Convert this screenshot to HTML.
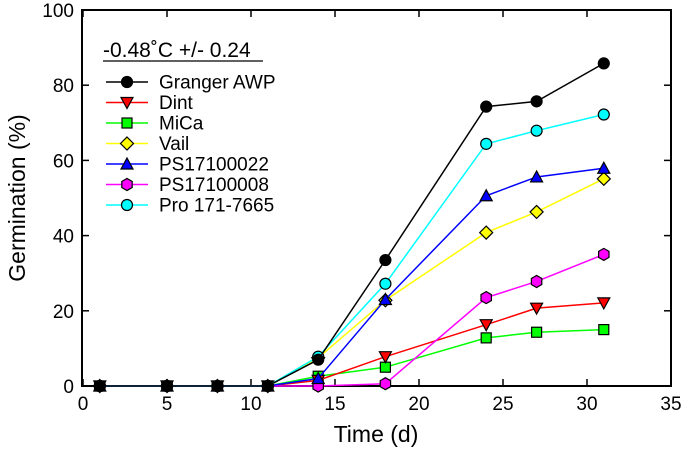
<!DOCTYPE html>
<html><head><meta charset="utf-8"><style>
body{margin:0;background:#fff}
svg{display:block;font-family:"Liberation Sans",Arial,sans-serif}
</style></head><body>
<svg id="chart" width="685" height="464" viewBox="0 0 685 464" xmlns="http://www.w3.org/2000/svg">
<g id="axes"></g><g id="series"></g><g id="legend"></g>
</svg>
<script>
const days=[1,5,8,11,14,18,24,27,31];
const granger=[0,0,0,0,7,33.5,74.3,75.7,85.8];
const dint=[0,0,0,0,1.5,7.8,16.3,20.7,22.1];
const mica=[0,0,0,0,2.6,5,12.8,14.3,15];
const vail=[0,0,0,0,7.5,22.8,40.8,46.3,55.1];
const ps22=[0,0,0,0,2,23,50.6,55.6,57.9];
const ps08=[0,0,0,0,0,0.6,23.5,27.8,35];
const pro=[0,0,0,0,7.8,27.2,64.4,67.9,72.2];
const xTicks=[0,5,10,15,20,25,30,35];
const yTicks=[0,20,40,60,80,100];
const seriesNames=["Granger AWP","Dint","MiCa","Vail","PS17100022","PS17100008","Pro 171-7665"];

const NS="http://www.w3.org/2000/svg";
const L=82,R=671,T=10,B=386;
const xs=v=>L+1+v*(R-L-1)/35;
const ys=v=>B-v*(B-T)/100;
function mk(tag,attrs,parent){const e=document.createElementNS(NS,tag);for(const k in attrs)e.setAttribute(k,attrs[k]);parent.appendChild(e);return e;}
const axes=document.getElementById('axes'),sg=document.getElementById('series'),lg=document.getElementById('legend');
const frame=mk('rect',{x:L,y:T,width:R-L,height:B-T,fill:'none',stroke:'#000','stroke-width':2},axes);


xTicks.forEach(t=>{
  const x=xs(t);
  mk('line',{x1:x,y1:B,x2:x,y2:B-7,stroke:'#000','stroke-width':1.5},axes);
  mk('line',{x1:x,y1:T,x2:x,y2:T+7,stroke:'#000','stroke-width':1.5},axes);
  const tx=mk('text',{x:x,y:B+24,'text-anchor':'middle','font-size':19},axes);tx.textContent=t;
  
  
});
yTicks.forEach(t=>{
  const y=ys(t);
  mk('line',{x1:L,y1:y,x2:L+7,y2:y,stroke:'#000','stroke-width':1.5},axes);
  mk('line',{x1:R,y1:y,x2:R-7,y2:y,stroke:'#000','stroke-width':1.5},axes);
  const tx=mk('text',{x:L-8,y:y+7,'text-anchor':'end','font-size':19},axes);tx.textContent=t;
  
  
});
const xt=mk('text',{x:376,y:442,'text-anchor':'middle','font-size':23},axes);xt.textContent='Time (d)';


const yt=mk('text',{x:0,y:0,'text-anchor':'middle','font-size':23,transform:'translate(25,198) rotate(-90)'},axes);yt.textContent='Germination (%)';



function marker(kind,x,y,fill,parent){
  const s={fill:fill,stroke:'#000','stroke-width':1.2};
  let e;
  if(kind==='circle')e=mk('circle',Object.assign({cx:x,cy:y,r:5.5},s),parent);
  else if(kind==='tri-down')e=mk('polygon',Object.assign({points:`${x-6},${y-5} ${x+6},${y-5} ${x},${y+6}`},s),parent);
  else if(kind==='tri-up')e=mk('polygon',Object.assign({points:`${x-6},${y+5} ${x+6},${y+5} ${x},${y-6}`},s),parent);
  else if(kind==='square')e=mk('rect',Object.assign({x:x-5,y:y-5,width:10,height:10},s),parent);
  else if(kind==='diamond')e=mk('polygon',Object.assign({points:`${x},${y-6.5} ${x+6.5},${y} ${x},${y+6.5} ${x-6.5},${y}`},s),parent);
  else if(kind==='hex'){let p=[];for(let i=0;i<6;i++){const a=Math.PI/6+i*Math.PI/3;p.push((x+6*Math.cos(a)).toFixed(1)+','+(y+6*Math.sin(a)).toFixed(1));}e=mk('polygon',Object.assign({points:p.join(' ')},s),parent);}
  return e;
}
const data=[granger,dint,mica,vail,ps22,ps08,pro];
const colors=['#000000','#ff0000','#00ff00','#ffff00','#0000ff','#ff00ff','#00ffff'];
const kinds=['circle','tri-down','square','diamond','tri-up','hex','circle'];
const fills=['#000000','#ff0000','#00ff00','#ffff00','#0000ff','#ff00ff','#00ffff'];
const slugs=['granger-awp','dint','mica','vail','ps17100022','ps17100008','pro-171-7665'];
const order=[3,2,1,5,4,6,0];
order.forEach(i=>{
  const g=mk('g',{},sg);
  
  
  const pl=mk('polyline',{points:days.map((d,j)=>xs(d)+','+ys(data[i][j])).join(' '),fill:'none',stroke:colors[i],'stroke-width':1.5},g);
  
  
  days.forEach((d,j)=>{
    const m=marker(kinds[i],xs(d),ys(data[i][j]),fills[i],g);
    
    
  });
});
const title=mk('text',{x:103,y:57,'font-size':21},lg);
title.textContent='-0.48\u02DAC +/- 0.24';


mk('line',{x1:103,y1:61,x2:263,y2:61,stroke:'#000','stroke-width':1.3},lg);
seriesNames.forEach((n,i)=>{
  const y=82+i*20.5;
  const g=mk('g',{},lg);
  
  
  mk('line',{x1:106,y1:y,x2:148,y2:y,stroke:colors[i],'stroke-width':1.5},g);
  marker(kinds[i],127,y,fills[i],g);
  const t=mk('text',{x:159,y:y+6.5,'font-size':19},g);t.textContent=n;
});
</script>
</body></html>
